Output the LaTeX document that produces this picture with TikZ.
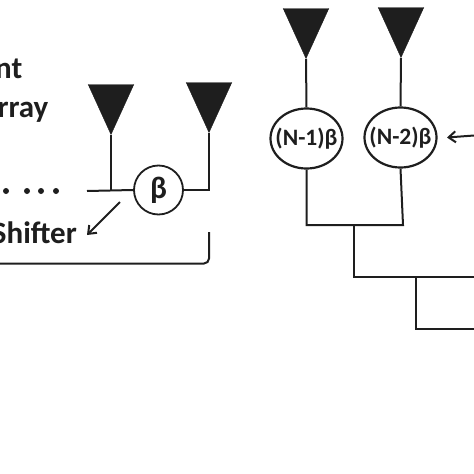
\documentclass[tikz,border=0pt]{standalone}
\usepackage{fontspec}
\setmainfont{Carlito}
\usetikzlibrary{arrows.meta,positioning,shapes.geometric}
\definecolor{ink}{HTML}{1E1E1E}
\begin{document}
\begin{tikzpicture}[
      x=1pt,y=-1pt,
      ant/.style={draw=ink,fill=ink,isosceles triangle,isosceles triangle apex angle=49,shape border rotate=270,inner sep=0pt,minimum height=50pt,anchor=apex},
      wire/.style={draw=ink,line width=2pt},
      phasebox/.style={draw=ink,fill=white,line width=2.2pt,ellipse,inner sep=0pt,minimum width=72pt,minimum height=60pt,font=\bfseries\fontsize{23.5}{24}\selectfont,text=ink},
      shifter/.style={draw=ink,fill=white,line width=1.8pt,circle,inner sep=0pt,minimum size=49pt,font=\bfseries\fontsize{31}{31}\selectfont,text=ink},
      lab/.style={anchor=base east,inner sep=0pt,font=\bfseries\fontsize{31}{31}\selectfont,text=ink},
      dotmark/.style={circle,fill=ink,inner sep=0pt,minimum size=6pt},
      arr/.style={-{Straight Barb[length=7pt,width=11pt]},draw=ink,line width=2pt}
    ]
      \clip[use as bounding box] (0,0) rectangle (474,474);
      \node[lab] (txtA) at (22.5,78) {nt};
      \node[lab] (txtB) at (48.5,117) {rray};
      \node[lab] (txtC) at (77,243) {Shifter};
      \node[ant] (antA) at (111,135) {};
      \node[ant] (antB) at (209,133) {};
      \node[ant] (antC) at (306,59) {};
      \node[ant] (antD) at (401,58) {};
      \node[shifter] (beta) at (158.5,190) {β};
      \node[phasebox] (phA) at (306.5,138.5) {\makebox[0pt]{(N-1)β}};
      \node[phasebox] (phB) at (400.5,137.5) {\makebox[0pt]{(N-2)β}};
      \foreach \i/\xpos in {1/6,2/27,3/41,4/56} {
        \node[dotmark] (dot\i) at (\xpos,191) {};
      }
      \coordinate (feed) at (87,191);
      \coordinate (tee) at (111,191);
      \coordinate (arrA) at (120,202);
      \coordinate (arrAend) at (87,235);
      \coordinate (braceA) at (209,232);
      \coordinate (braceB) at (209,263.5);
      \coordinate (braceC) at (0,263.5);
      \coordinate (busA) at (353.5,225);
      \coordinate (busB) at (403,225);
      \coordinate (busC) at (416,277);
      \coordinate (endA) at (474,277);
      \coordinate (endB) at (474,329);
      \coordinate (arrB) at (474,135.5);
      \draw[wire] (antA.apex) -- (tee);
      \draw[wire] (feed) -- (beta.west);
      \draw[wire] (beta.east) -| (antB.apex);
      \draw[wire] (antC.apex) -- (phA.north);
      \draw[wire] (antD.apex) -- (phB.north);
      \draw[wire] (phA.south) |- (busA) -- (busB) -- (phB.south);
      \draw[wire] (busA) |- (endA);
      \draw[wire] (busC) |- (endB);
      \draw[wire,rounded corners=5pt] (braceA) -- (braceB) -- (braceC);
      \draw[arr] (arrA) -- (arrAend);
      \draw[arr] (arrB) -- (phB.east -| 447,0);
    \end{tikzpicture}
\end{document}
